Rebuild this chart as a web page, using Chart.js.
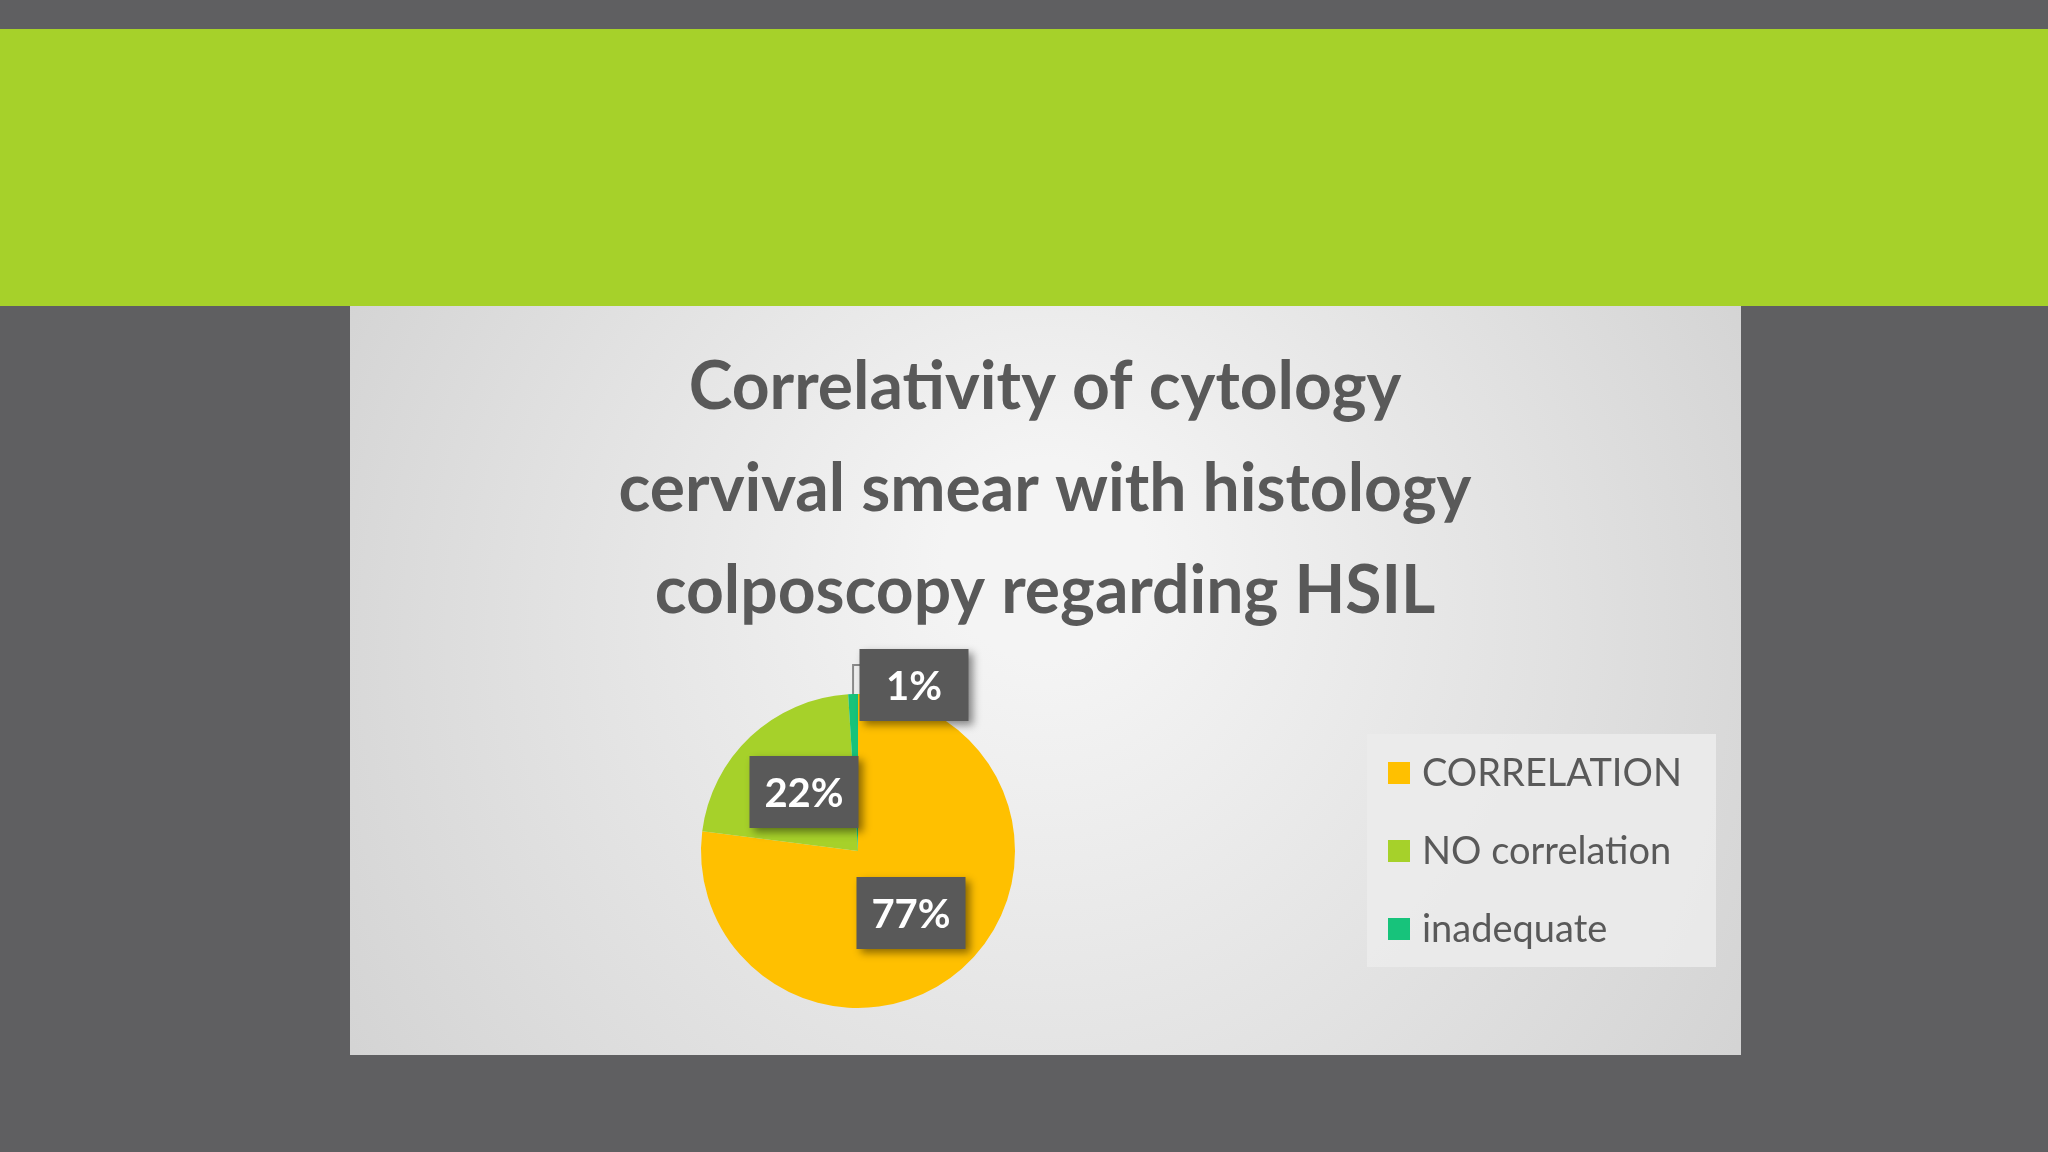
<!DOCTYPE html>
<html><head><meta charset="utf-8">
<script src="https://cdn.jsdelivr.net/npm/chart.js@4"></script>
<style>html,body{margin:0;padding:0;background:#5f5f61;}canvas{display:block;}</style>
</head><body>
<div style="width:2048px;height:1152px;position:relative"><canvas id="c" width="2048" height="1152"></canvas></div>
<script>
const titleLines = ["Correlativity of cytology", "cervival smear with histology", "colposcopy regarding HSIL"];
const categories = ["CORRELATION", "NO correlation", "inadequate"];
const values = [77, 22, 1];
const colors = ["#ffc000", "#a6d12a", "#17c37b"];

const deco = {
  id: 'deco',
  beforeDraw(chart) {
    const ctx = chart.ctx;
    ctx.save();
    ctx.fillStyle = '#5f5f61'; ctx.fillRect(0, 0, 2048, 1152);
    ctx.fillStyle = '#a6d12a'; ctx.fillRect(0, 29, 2048, 277);
    const g = ctx.createRadialGradient(1045, 560, 100, 1045, 680, 900);
    g.addColorStop(0, '#f4f4f4'); g.addColorStop(1, '#cfcfcf');
    ctx.fillStyle = g; ctx.fillRect(350, 306, 1391, 749);
    ctx.fillStyle = '#595959';
    ctx.font = 'bold 66px Lato, "Open Sans", sans-serif';
    ctx.textAlign = 'center'; ctx.textBaseline = 'middle';
    titleLines.forEach((t, i) => ctx.fillText(t, 1045, 388 + i * 102));
    // legend
    ctx.fillStyle = 'rgba(235,235,235,0.9)'; ctx.fillRect(1367, 734, 349, 233);
    ctx.font = '38px Lato, "Open Sans", sans-serif'; ctx.textAlign = 'left';
    categories.forEach((c, i) => {
      const y = 773 + i * 78;
      ctx.fillStyle = colors[i]; ctx.fillRect(1388, y - 11, 22, 22);
      ctx.fillStyle = '#595959'; ctx.fillText(c, 1422, y + 1);
    });
    ctx.restore();
  },
  afterDatasetsDraw(chart) {
    const ctx = chart.ctx;
    const arcs = chart.getDatasetMeta(0).data;
    ctx.save();
    ctx.font = 'bold 40px Lato, "Open Sans", sans-serif';
    ctx.textAlign = 'center'; ctx.textBaseline = 'middle';
    arcs.forEach((a, i) => {
      let x, y;
      if (values[i] < 3) {
        x = a.x + 56; y = a.y - a.outerRadius - 9;
        ctx.strokeStyle = '#8a8a8a'; ctx.lineWidth = 2;
        ctx.beginPath();
        const mid = (a.startAngle + a.endAngle) / 2;
        const px = a.x + Math.cos(mid) * a.outerRadius, py = a.y + Math.sin(mid) * a.outerRadius;
        ctx.moveTo(px, py); ctx.lineTo(px, y - 20); ctx.lineTo(x - 43, y - 20); ctx.stroke();
      } else {
        const mid = (a.startAngle + a.endAngle) / 2;
        const r = a.outerRadius * 0.52;
        x = a.x + Math.cos(mid) * r; y = a.y + Math.sin(mid) * r;
        if (i === 0) { x = a.x + 53; y = a.y + 62; }
        if (i === 1) { x = a.x - 54; y = a.y - 59; }
      }
      const w = 109, h = 72;
      ctx.shadowColor = 'rgba(0,0,0,0.45)'; ctx.shadowBlur = 8; ctx.shadowOffsetX = 4; ctx.shadowOffsetY = 4;
      ctx.fillStyle = '#595959'; ctx.fillRect(x - w / 2, y - h / 2, w, h);
      ctx.shadowColor = 'transparent';
      ctx.fillStyle = '#ffffff'; ctx.fillText(values[i] + '%', x, y + 2);
    });
    ctx.restore();
  }
};

new Chart(document.getElementById('c'), {
  type: 'pie',
  data: { labels: categories, datasets: [{ data: values, backgroundColor: colors, borderWidth: 0 }] },
  options: {
    responsive: false, animation: false,
    layout: { padding: { left: 701, right: 1033, top: 694, bottom: 144 } },
    plugins: { legend: { display: false }, tooltip: { enabled: false }, title: { display: false } }
  },
  plugins: [deco]
});
</script>
</body></html>
